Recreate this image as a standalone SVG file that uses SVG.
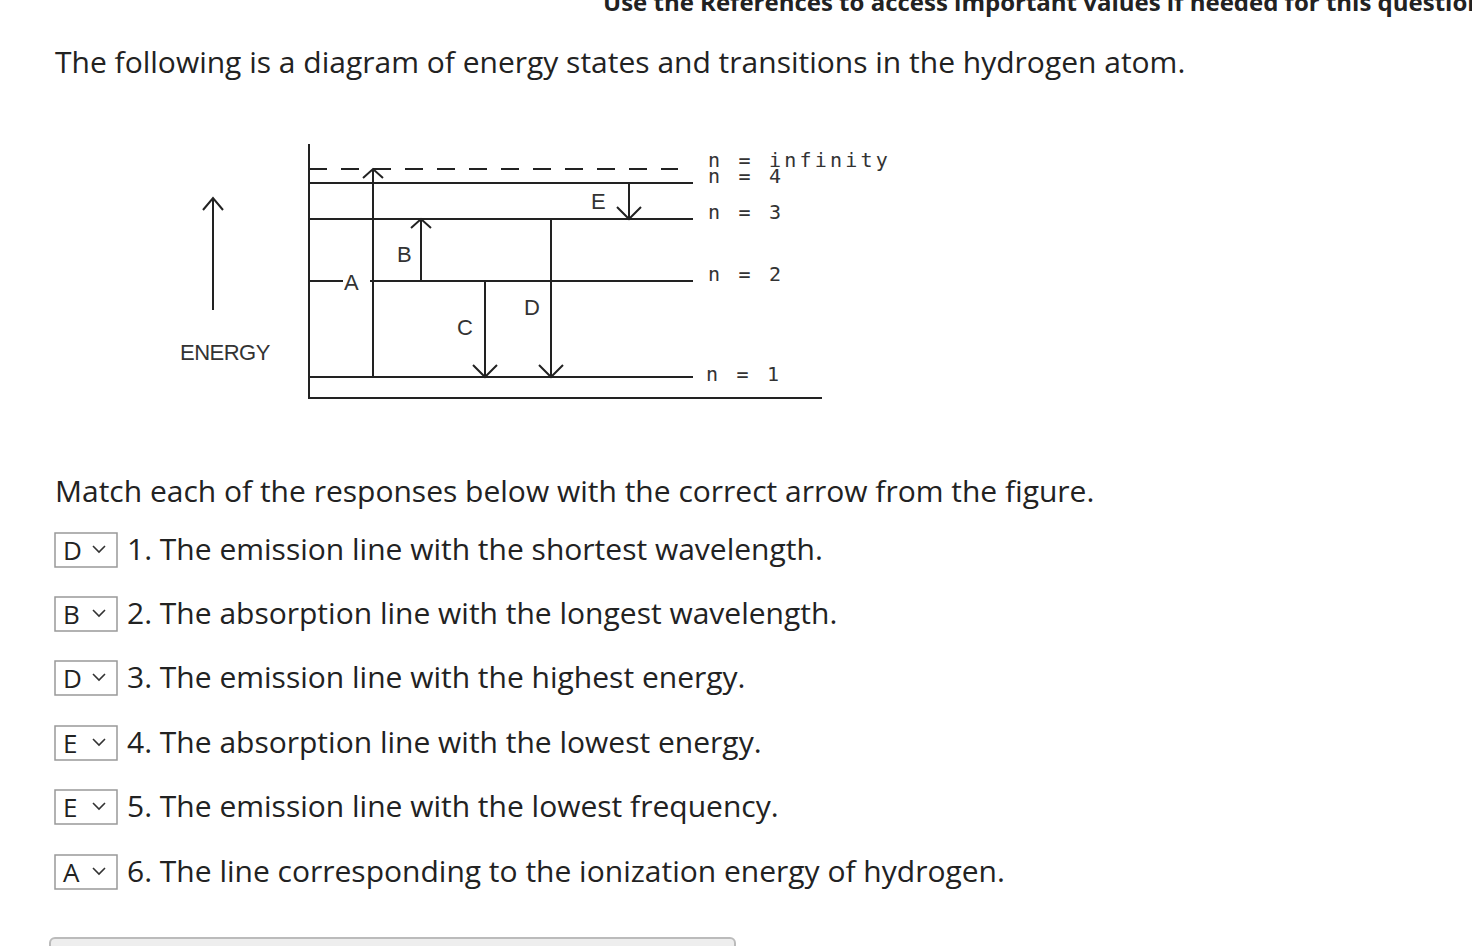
<svg xmlns="http://www.w3.org/2000/svg" width="1472" height="946" viewBox="0 0 1472 946">
<style>
.t{font-family:"Open Sans",sans-serif;fill:#222}
.l{stroke:#222;stroke-width:2;fill:none}
.s{font-family:"Liberation Sans",sans-serif;font-size:22px;fill:#333}
.m{font-family:"DejaVu Sans Mono",monospace;font-size:20px;fill:#333;letter-spacing:3.2px}
.box{fill:#fff;stroke:#999;stroke-width:1.5}
.chev{stroke:#333;stroke-width:1.6;fill:none}
</style>
<rect width="1472" height="946" fill="#fff"/>
<text class="t" x="603" y="11" font-size="24" font-weight="bold">Use the References to access important values if needed for this question.</text>
<text class="t" x="55" y="73" font-size="30">The following is a diagram of energy states and transitions in the hydrogen atom.</text>
<g id="axes">
<path class="l" d="M309,144V398H822"/>
<path class="l" d="M309,169H678" stroke-dasharray="18,14"/>
<path class="l" d="M309,183H693M309,219H693M309,281H343M370,281H693M309,377H693"/>
</g>
<g id="energy"><path class="l" d="M213,310V198M203,210L213,198L223,210"/><text class="s" x="180" y="360" letter-spacing="-0.5">ENERGY</text></g>
<g id="connectors">
<path class="l" d="M373,377V169M363,178L373,169L383,178"/>
<path class="l" d="M421,281V219M411,228L421,219L431,228"/>
<path class="l" d="M485,281V377M473,365L485,377L497,365"/>
<path class="l" d="M551,219V377M539,365L551,377L563,365"/>
<path class="l" d="M629,183V219M617,207L629,219L641,207"/>
</g>
<g id="labels">
<text class="s" x="344" y="290">A</text>
<text class="s" x="397" y="262">B</text>
<text class="s" x="457" y="335">C</text>
<text class="s" x="524" y="315">D</text>
<text class="s" x="591" y="209">E</text>
</g>
<g id="levels">
<text class="m" x="708" y="167">n = infinity</text>
<text class="m" x="708" y="183">n = 4</text>
<text class="m" x="708" y="219">n = 3</text>
<text class="m" x="708" y="281">n = 2</text>
<text class="m" x="706" y="381">n = 1</text>
</g>
<text class="t" x="55" y="502" font-size="30">Match each of the responses below with the correct arrow from the figure.</text>
<g id="q1"><rect class="box" x="55" y="533" width="62" height="34"/><text class="t" x="63" y="560" font-size="26">D</text><path class="chev" d="M93,546l6,6l6,-6"/><text class="t" x="127" y="560" font-size="30">1. The emission line with the shortest wavelength.</text></g>
<g id="q2"><rect class="box" x="55" y="597" width="62" height="34"/><text class="t" x="63" y="624" font-size="26">B</text><path class="chev" d="M93,610l6,6l6,-6"/><text class="t" x="127" y="624" font-size="30">2. The absorption line with the longest wavelength.</text></g>
<g id="q3"><rect class="box" x="55" y="661" width="62" height="34"/><text class="t" x="63" y="688" font-size="26">D</text><path class="chev" d="M93,674l6,6l6,-6"/><text class="t" x="127" y="688" font-size="30">3. The emission line with the highest energy.</text></g>
<g id="q4"><rect class="box" x="55" y="726" width="62" height="34"/><text class="t" x="63" y="753" font-size="26">E</text><path class="chev" d="M93,739l6,6l6,-6"/><text class="t" x="127" y="753" font-size="30">4. The absorption line with the lowest energy.</text></g>
<g id="q5"><rect class="box" x="55" y="790" width="62" height="34"/><text class="t" x="63" y="817" font-size="26">E</text><path class="chev" d="M93,803l6,6l6,-6"/><text class="t" x="127" y="817" font-size="30">5. The emission line with the lowest frequency.</text></g>
<g id="q6"><rect class="box" x="55" y="855" width="62" height="34"/><text class="t" x="63" y="882" font-size="26">A</text><path class="chev" d="M93,868l6,6l6,-6"/><text class="t" x="127" y="882" font-size="30">6. The line corresponding to the ionization energy of hydrogen.</text></g>
<rect x="50" y="938" width="685" height="14" rx="5" fill="#eee" stroke="#bbb" stroke-width="2"/>
</svg>
